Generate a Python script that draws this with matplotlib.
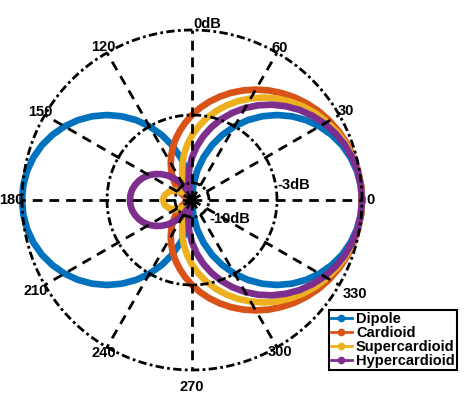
import numpy as np
import matplotlib.pyplot as plt
from matplotlib.lines import Line2D

plt.rcParams['font.family'] = ['Liberation Sans', 'DejaVu Sans']
plt.rcParams['font.weight'] = 'bold'

# Valeurs lues sur le diagramme (demi-plan 0..180 deg par pas de 5, symétrique)
angles_deg = np.arange(0, 181, 5)
dipole = [1.000, 0.996, 0.985, 0.966, 0.940, 0.906, 0.866, 0.819, 0.766, 0.707,
          0.643, 0.574, 0.500, 0.423, 0.342, 0.259, 0.174, 0.087, 0.000,
          0.087, 0.174, 0.259, 0.342, 0.423, 0.500, 0.574, 0.643, 0.707,
          0.766, 0.819, 0.866, 0.906, 0.940, 0.966, 0.985, 0.996, 1.000]
cardioid = [1.000, 0.998, 0.992, 0.983, 0.970, 0.953, 0.933, 0.910, 0.883, 0.854,
            0.821, 0.787, 0.750, 0.711, 0.671, 0.629, 0.587, 0.544, 0.500,
            0.456, 0.413, 0.371, 0.329, 0.289, 0.250, 0.213, 0.179, 0.146,
            0.117, 0.090, 0.067, 0.047, 0.030, 0.017, 0.008, 0.002, 0.000]
supercardioid = [1.000, 0.998, 0.991, 0.979, 0.963, 0.942, 0.917, 0.888, 0.855, 0.818,
                 0.779, 0.736, 0.690, 0.642, 0.592, 0.540, 0.488, 0.434, 0.380,
                 0.326, 0.272, 0.220, 0.168, 0.118, 0.070, 0.024, 0.013, 0.041,
                 0.067, 0.090, 0.110, 0.127, 0.142, 0.153, 0.162, 0.167, 0.168]
hypercardioid = [1.000, 0.997, 0.989, 0.974, 0.955, 0.930, 0.900, 0.864, 0.825, 0.780,
                 0.732, 0.680, 0.625, 0.567, 0.507, 0.444, 0.380, 0.315, 0.250,
                 0.185, 0.120, 0.056, 0.005, 0.049, 0.091, 0.131, 0.169, 0.204,
                 0.237, 0.266, 0.292, 0.314, 0.332, 0.346, 0.357, 0.363, 0.365]

names = ['Dipole', 'Cardioid', 'Supercardioid', 'Hypercardioid']
series = [dipole, cardioid, supercardioid, hypercardioid]
colors = ['#0072BD', '#D95319', '#EDB120', '#7E2F8E']

tick_angles = [0, 30, 60, 120, 150, 180, 210, 240, 270, 300, 330]
tick_labels = [str(a) for a in tick_angles]
ring_values = [1.0, 0.5, 0.1]
ring_labels = ['0dB', '-3dB', '-10dB']

fig = plt.figure(figsize=(4.74, 4.03), dpi=100)
ax = fig.add_axes([22 / 474, 33 / 403, 340 / 474, 340 / 403], projection='polar')
ax.set_ylim(0, 1)
ax.axis('off')

# Courbes (symétrie par rapport à l'axe 0-180)
theta_full = np.deg2rad(np.r_[angles_deg, 360 - angles_deg[::-1][1:]])
for r, c, n in zip(series, colors, names):
    r = np.asarray(r)
    r_full = np.r_[r, r[::-1][1:]]
    ax.plot(theta_full, r_full, color=c, lw=4.8, label=n, zorder=2,
            clip_on=False, solid_joinstyle='round')

# Grille façon MATLAB
th = np.linspace(0, 2 * np.pi, 721)
for rv in ring_values:
    ax.plot(th, np.full_like(th, rv), color='k', lw=2,
            dashes=(3, 1.2, 1, 1.2), zorder=3, clip_on=False)
for a in range(0, 360, 30):
    ax.plot([np.deg2rad(a)] * 2, [0, 1], color='k', lw=2,
            dashes=(3.5, 2.5), zorder=3, clip_on=False)

# Etiquettes d'angle
label_r = [1.05, 1.045, 1.035, 1.04, 1.03, 1.06, 1.065, 1.04, 1.10, 1.03, 1.11]
for a, t, rr in zip(tick_angles, tick_labels, label_r):
    ax.text(np.deg2rad(a), rr, t, ha='center', va='center', fontsize=10.5,
            fontweight='bold', zorder=4)

# Etiquettes radiales
ax.text(np.deg2rad(85), 1.04, ring_labels[0], ha='center', va='center',
        fontsize=10.5, fontweight='bold', zorder=4)
ax.text(np.deg2rad(10), 0.51, ring_labels[1], ha='left', va='center',
        fontsize=10.5, fontweight='bold', zorder=4)
ax.text(np.deg2rad(-48), 0.15, ring_labels[2], ha='left', va='center',
        fontsize=10.5, fontweight='bold', zorder=4)

handles = [Line2D([], [], color=c, lw=2, marker='o', ms=4.5) for c in colors]
leg = fig.legend(handles, names, loc='upper left',
                 bbox_to_anchor=(329 / 474, 1 - 310 / 403),
                 bbox_transform=fig.transFigure, fontsize=10.5,
                 frameon=True, fancybox=False, edgecolor='k', framealpha=1,
                 borderpad=0.15, labelspacing=0.0, handlelength=1.4,
                 handletextpad=0.3, borderaxespad=0)
leg.get_frame().set_linewidth(1.5)

fig.savefig('out.png', dpi=100)
